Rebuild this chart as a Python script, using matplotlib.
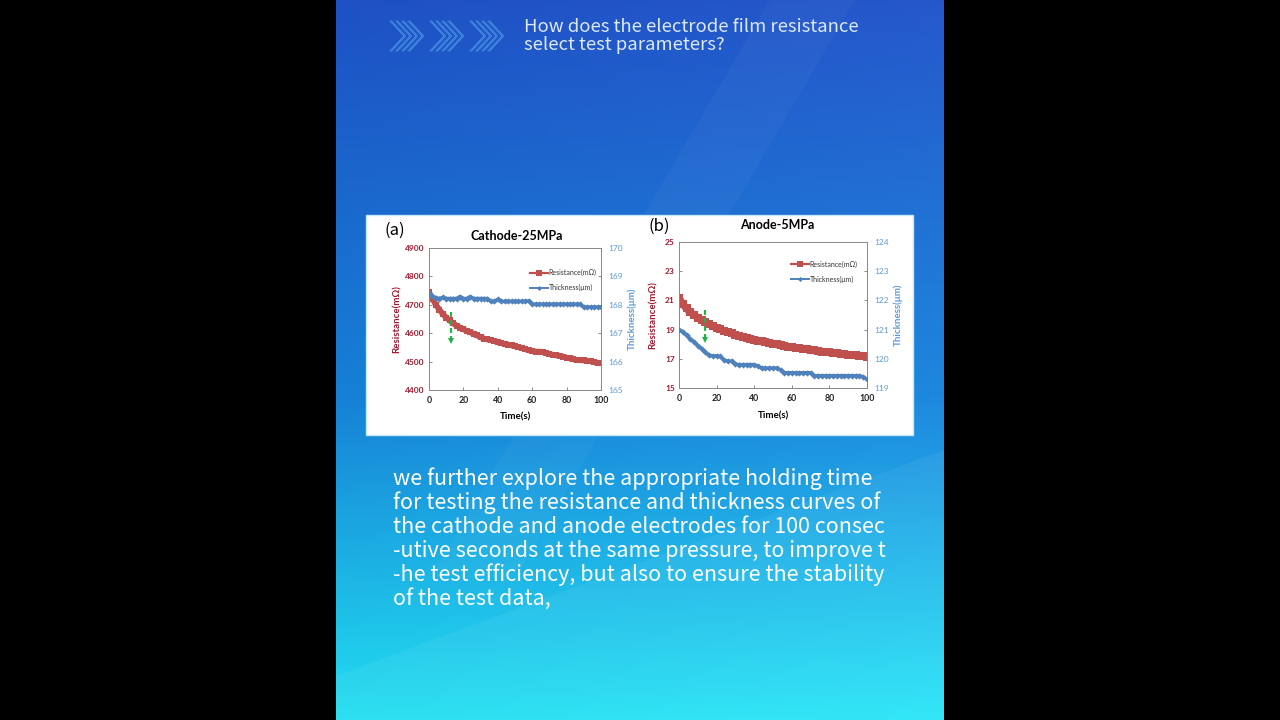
import numpy as np
import matplotlib
matplotlib.use('Agg')
import matplotlib.pyplot as plt
from matplotlib.patches import Rectangle, Polygon
from matplotlib.lines import Line2D

# ---------------- data ----------------
time_s = list(range(0, 101, 2))

cathode_resistance = [4744, 4722, 4700, 4683, 4668, 4655, 4645, 4635, 4627, 4620,
                      4614, 4608, 4603, 4598, 4592, 4586, 4581, 4578, 4576, 4572,
                      4568, 4565, 4562, 4560, 4557, 4554, 4551, 4548, 4544, 4540,
                      4537, 4535, 4535, 4534, 4530, 4527, 4524, 4522, 4520, 4517,
                      4514, 4511, 4508, 4506, 4505, 4504, 4503, 4501, 4498, 4496,
                      4495]
cathode_thickness = [168.42, 168.30, 168.25, 168.22, 168.26, 168.22, 168.22, 168.22, 168.22, 168.29,
                     168.22, 168.22, 168.29, 168.22, 168.22, 168.22, 168.22, 168.22, 168.12, 168.12,
                     168.19, 168.12, 168.12, 168.12, 168.12, 168.12, 168.12, 168.12, 168.12, 168.14,
                     168.02, 168.02, 168.02, 168.02, 168.02, 168.02, 168.02, 168.02, 168.02, 168.02,
                     168.02, 168.02, 168.02, 168.02, 168.02, 167.92, 167.92, 167.92, 167.92, 167.92,
                     167.92]
anode_resistance = [21.15, 20.75, 20.45, 20.20, 20.00, 19.82, 19.65, 19.50, 19.37, 19.24,
                    19.12, 19.02, 18.92, 18.83, 18.74, 18.66, 18.58, 18.51, 18.44, 18.37,
                    18.31, 18.25, 18.19, 18.13, 18.08, 18.03, 17.98, 17.93, 17.88, 17.84,
                    17.80, 17.76, 17.72, 17.68, 17.64, 17.60, 17.57, 17.53, 17.50, 17.47,
                    17.44, 17.41, 17.38, 17.35, 17.32, 17.29, 17.26, 17.23, 17.20, 17.17,
                    17.14]
anode_thickness = [121.00, 120.93, 120.80, 120.68, 120.58, 120.45, 120.35, 120.22, 120.12, 120.10,
                   120.10, 120.08, 119.95, 119.92, 119.92, 119.82, 119.80, 119.80, 119.80, 119.80,
                   119.80, 119.75, 119.68, 119.68, 119.68, 119.68, 119.68, 119.62, 119.52, 119.52,
                   119.52, 119.52, 119.52, 119.52, 119.52, 119.52, 119.42, 119.42, 119.42, 119.42,
                   119.42, 119.42, 119.42, 119.42, 119.42, 119.42, 119.42, 119.42, 119.42, 119.38,
                   119.30]

time_ticks = [0, 20, 40, 60, 80, 100]
cathode_res_ticks = [4400, 4500, 4600, 4700, 4800, 4900]
cathode_thk_ticks = [165, 166, 167, 168, 169, 170]
anode_res_ticks = [15, 17, 19, 21, 23, 25]
anode_thk_ticks = [119, 120, 121, 122, 123, 124]

cathode_arrow = [13, 4676, 4565]   # x, y_start, y_end (resistance units)
anode_arrow = [14, 20.34, 18.17]

legend_labels = ['Resistance(mΩ)', 'Thickness(μm)']
panel_titles = ['Cathode-25MPa', 'Anode-5MPa']
panel_tags = ['(a)', '(b)']

title_lines = ['How does the electrode film resistance', 'select test parameters?']
body_lines = ['we further explore the appropriate holding time',
              'for testing the resistance and thickness curves of',
              'the cathode and anode electrodes for 100 consec',
              '-utive seconds at the same pressure, to improve t',
              '-he test efficiency, but also to ensure the stability',
              'of the test data,']

# ---------------- style ----------------
W, H = 1280, 720
RED = '#C0504D'
BLUE = '#4F81BD'
DARKRED = '#A3192F'
LIGHTBLUE = '#5B9BD5'
GREEN = '#21B24B'
CHART_FONT = ['Lato', 'DejaVu Sans']
UI_FONT = ['Noto Sans CJK SC', 'DejaVu Sans']

fig = plt.figure(figsize=(W / 100, H / 100), dpi=100, facecolor='black')


def fx(px):
    return px / W


def fy(py):
    return 1 - py / H


# background gradient panel
bg = fig.add_axes([fx(336), 0, fx(944) - fx(336), 1], zorder=-10)
ny, nx = 200, 100
yy = np.linspace(0, 1, ny)[:, None]
xx = np.linspace(0, 1, nx)[None, :]
top = np.array([30, 80, 196]) / 255
mid = np.array([22, 128, 214]) / 255
bot = np.array([34, 222, 240]) / 255
wmid = np.clip(yy / 0.55, 0, 1)
wbot = np.clip((yy - 0.55) / 0.45, 0, 1)
img = np.zeros((ny, nx, 3))
for c in range(3):
    base = np.where(yy < 0.55, top[c] + (mid[c] - top[c]) * wmid, mid[c] + (bot[c] - mid[c]) * wbot)
    img[:, :, c] = base + 0.03 * xx
img = np.clip(img, 0, 1)
bg.imshow(img, aspect='auto', extent=[0, 1, 0, 1], origin='upper')
bg.set_xlim(0, 1)
bg.set_ylim(0, 1)
bg.set_axis_off()


def bx(px):
    return (px - 336) / 608


def by(py):
    return 1 - py / H


# faint decorative light band and lower-left light facet
bg.add_patch(Polygon([(bx(770), by(0)), (bx(855), by(0)), (bx(520), by(570)), (bx(435), by(570))],
                     closed=True, facecolor='white', alpha=0.03, lw=0))
bg.add_patch(Polygon([(bx(336), by(676)), (bx(944), by(450)), (bx(944), by(720)), (bx(336), by(720))],
                     closed=True, facecolor='white', alpha=0.05, lw=0))

# chevrons decoration
for g0 in [390, 430, 470]:
    for k in range(4):
        x0 = g0 + k * 6
        for off in (0, 1.6):
            fig.add_artist(Line2D([fx(x0 + off), fx(x0 + 14 + off), fx(x0 + off)],
                                  [fy(21), fy(36), fy(51)], color='#4f9be8', lw=0.7, alpha=0.8))

# title (single text block)
fig.text(fx(524), fy(36), '\n'.join(title_lines), fontsize=13.3, color='#dde9fb',
         family=UI_FONT, fontweight='medium', va='center', ha='left', linespacing=1.0)

# body
for i, line in enumerate(body_lines):
    fig.text(fx(393), fy(479 + 24 * i), line, fontsize=15.5, color='white',
             family=UI_FONT, fontweight='medium', va='center', ha='left')

# white panel
fig.add_artist(Rectangle((fx(366), fy(435)), fx(913) - fx(366), fy(215) - fy(435),
                         transform=fig.transFigure, facecolor='white', edgecolor='#c4e8f6',
                         lw=1.0, zorder=0))


def panel(rect, t, R, T, rticks, tticks, arrow, leg_anchor, title_xy, title, tag_xy, tag,
          ylab_x, ylab2_x, xlab_y, rwidth):
    ax = fig.add_axes([fx(rect[0]), fy(rect[3]), fx(rect[2]) - fx(rect[0]), fy(rect[1]) - fy(rect[3])],
                      zorder=2)
    ax2 = ax.twinx()
    ax.set_facecolor('white')
    l1, = ax.plot(t, R, color=RED, marker='s', ms=rwidth, lw=rwidth, mew=0,
                  solid_capstyle='butt', label=legend_labels[0], zorder=3)
    l2, = ax2.plot(t, T, color=BLUE, marker='D', ms=3.2, lw=2.6, mew=0,
                   label=legend_labels[1], zorder=3)
    ax.set_xlim(0, 100)
    ax.set_ylim(rticks[0], rticks[-1])
    ax2.set_ylim(tticks[0], tticks[-1])
    ax.set_xticks(time_ticks)
    ax.set_yticks(rticks)
    ax2.set_yticks(tticks)
    for sp in list(ax.spines.values()) + list(ax2.spines.values()):
        sp.set_color('#8a8a8a')
        sp.set_linewidth(0.7)
    ax.tick_params(axis='y', direction='in', length=2.5, width=0.6, color='#777777', pad=3,
                   labelsize=6, labelcolor=DARKRED)
    ax.tick_params(axis='x', direction='in', length=2.5, width=0.6, color='#777777', pad=4,
                   labelsize=6.3, labelcolor='#222222')
    ax2.tick_params(axis='y', direction='in', length=2.5, width=0.6, color='#777777', pad=5,
                    labelsize=6, labelcolor=LIGHTBLUE)
    for lab in ax.get_yticklabels():
        lab.set_family(CHART_FONT)
        lab.set_fontweight('bold')
    for lab in ax.get_xticklabels():
        lab.set_family(CHART_FONT)
        lab.set_fontweight('bold')
    for lab in ax2.get_yticklabels():
        lab.set_family(CHART_FONT)
    # green dashed arrow
    ax.plot([arrow[0], arrow[0]], [arrow[1], arrow[2] + (arrow[1] - arrow[2]) * 0.12],
            color=GREEN, lw=1.6, ls=(0, (2.2, 1.4)), zorder=5)
    ax.plot([arrow[0]], [arrow[2] + (arrow[1] - arrow[2]) * 0.06], marker='v', color=GREEN,
            ms=5, mew=0, zorder=5)
    h1 = Line2D([], [], color=RED, marker='s', ms=4, lw=1.6, mew=0)
    h2 = Line2D([], [], color=BLUE, marker='D', ms=2.6, lw=1.4, mew=0)
    leg = ax.legend([h1, h2], legend_labels, loc='upper left', bbox_to_anchor=leg_anchor,
                    frameon=False, prop={'family': CHART_FONT, 'size': 5},
                    handlelength=2.6, handletextpad=0.1, labelspacing=1.1, borderaxespad=0)
    for txt in leg.get_texts():
        txt.set_color('#333333')
    fig.text(fx(title_xy[0]), fy(title_xy[1]), title, fontsize=9, fontweight='bold',
             family=CHART_FONT, ha='center', va='center', color='black', zorder=3)
    fig.text(fx(tag_xy[0]), fy(tag_xy[1]), tag, fontsize=12, family=UI_FONT,
             ha='left', va='center', color='black', zorder=3)
    cy = (rect[1] + rect[3]) / 2
    fig.text(fx(ylab_x), fy(cy), 'Resistance(mΩ)', rotation=90, fontsize=7, fontweight='bold',
             family=CHART_FONT, color=DARKRED, ha='center', va='center', zorder=3)
    fig.text(fx(ylab2_x), fy(cy), 'Thickness(μm)', rotation=90, fontsize=7, fontweight='bold',
             family=CHART_FONT, color=LIGHTBLUE, ha='center', va='center', zorder=3)
    fig.text(fx((rect[0] + rect[2]) / 2), fy(xlab_y), 'Time(s)', fontsize=7, fontweight='bold',
             family=CHART_FONT, ha='center', va='center', color='black', zorder=3)


panel((429, 248, 601, 390), time_s, cathode_resistance, cathode_thickness,
      cathode_res_ticks, cathode_thk_ticks, cathode_arrow, (0.57, 0.87),
      (517, 236), panel_titles[0], (385, 230), panel_tags[0], 397, 632, 417, 4.2)
panel((679, 242, 867, 388), time_s, anode_resistance, anode_thickness,
      anode_res_ticks, anode_thk_ticks, anode_arrow, (0.58, 0.89),
      (777, 225), panel_titles[1], (649, 226), panel_tags[1], 653, 898, 416, 5.4)

fig.savefig('out.png', dpi=100, facecolor='black')
